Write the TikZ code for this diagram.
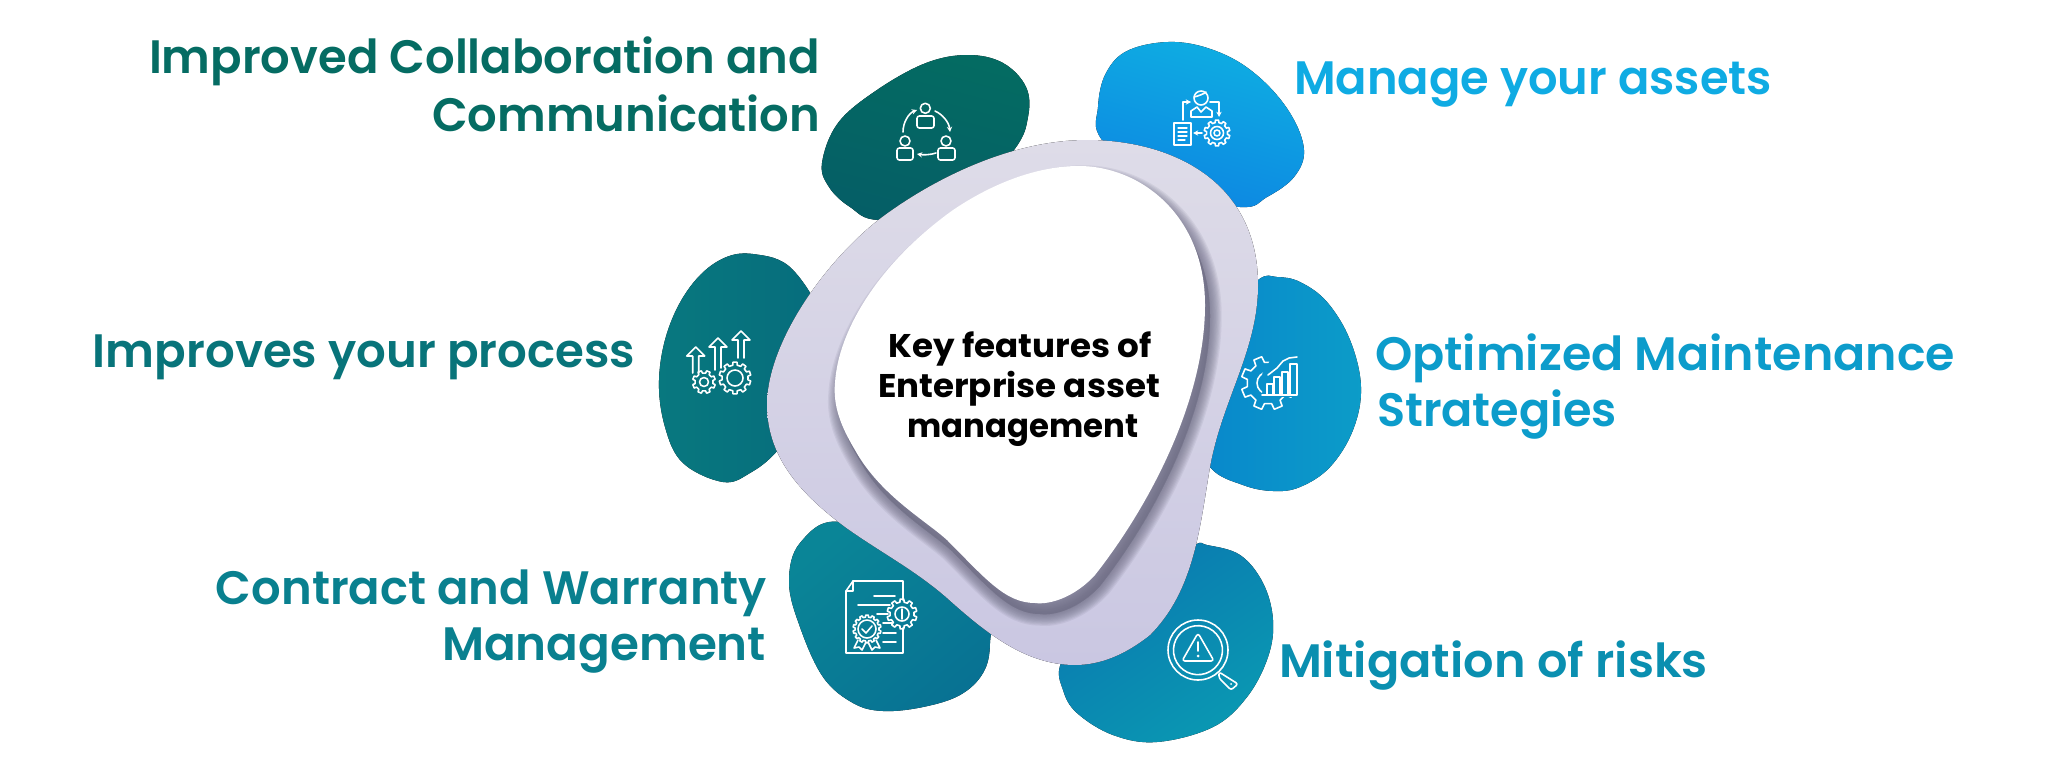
\documentclass[tikz,border=0pt]{standalone}
\usepackage{graphicx}
\usepackage{fontspec}
\setmainfont{Poppins}[UprightFont=* SemiBold,BoldFont=* Bold]
\usetikzlibrary{arrows.meta}
\definecolor{tgreen}{HTML}{056C63}
\definecolor{tblue}{HTML}{0FABE3}
\definecolor{tteal}{HTML}{08747A}
\definecolor{topt}{HTML}{0C9CCB}
\definecolor{tcontract}{HTML}{09808F}
\definecolor{tmit}{HTML}{0A8FB0}
\definecolor{shadowcol}{HTML}{6E6D84}
\definecolor{pgA}{HTML}{046B62}\definecolor{pgB}{HTML}{055E66}
\definecolor{pbA}{HTML}{0EAEE2}\definecolor{pbB}{HTML}{0D85E2}
\definecolor{poA}{HTML}{0886CC}\definecolor{poB}{HTML}{0C9CC8}
\definecolor{piA}{HTML}{08787F}\definecolor{piB}{HTML}{066C7C}
\definecolor{pcA}{HTML}{0A8597}\definecolor{pcB}{HTML}{087293}
\definecolor{pmA}{HTML}{0A78B0}\definecolor{pmB}{HTML}{0A98B2}
\definecolor{ringA}{HTML}{DEDCE8}\definecolor{ringB}{HTML}{CAC7E2}
\tikzset{
  lab/.style={anchor=base,inner sep=0pt,font=\fontsize{40}{40}\selectfont},
  ctr/.style={anchor=base,inner sep=0pt,text=black,font=\fontsize{28}{28}\selectfont\bfseries},
  iconline/.style={draw=white,line width=1.35pt,line cap=round,line join=round},
  arr/.style={iconline,-{Stealth[length=4.5pt,width=4.5pt]}}
}
\newcommand\fitw[2]{\resizebox{\dimexpr 0.03cm*#1\relax}{\height}{#2}}
\newcommand\ringpath{(1087,140) .. controls (1170,140) and (1258,180) .. (1258,285) .. controls (1258,350) and (1222,400) .. (1210,467) .. controls (1200,525) and (1195,590) .. (1150,635) .. controls (1125,655) and (1100,665) .. (1075,665) .. controls (1025,665) and (985,632) .. (947,598) .. controls (915,570) and (880,552) .. (845,527) .. controls (805,497) and (767,460) .. (767,405) .. controls (767,340) and (830,255) .. (885,215) .. controls (940,175) and (1015,140) .. (1087,140) -- cycle}
\newcommand\whitepath{(1079,166) .. controls (1140,166) and (1205,215) .. (1205,305) .. controls (1205,400) and (1150,505) .. (1095,575) .. controls (1075,597) and (1050,605) .. (1035,603) .. controls (1005,603) and (985,578) .. (947,540) .. controls (925,520) and (880,495) .. (855,450) .. controls (840,425) and (833,405) .. (835,383) .. controls (838,330) and (880,262) .. (953,210) .. controls (990,185) and (1035,166) .. (1079,166) -- cycle}
% gear outline centred at (#1,#2), outer radius #3, root radius #4, #5 teeth
\newcommand\gearicon[5]{%
  \pgfmathsetmacro\gstep{360/#5}%
  \begin{scope}[shift={(#1,#2)}]
    \draw[iconline] (0:#4) \foreach \gi in {1,...,#5}{
      -- ({(\gi-1)*\gstep+0.22*\gstep}:#4)
      -- ({(\gi-1)*\gstep+0.30*\gstep}:#3)
      -- ({(\gi-1)*\gstep+0.70*\gstep}:#3)
      -- ({(\gi-1)*\gstep+0.78*\gstep}:#4)
    } -- cycle;
  \end{scope}}
% outlined up arrow: x, tip y, left bottom y, right bottom y
\newcommand\uparrowicon[4]{%
  \draw[iconline] (#1-3,#3) -- (#1-3,#2+9) -- (#1-9,#2+9) -- (#1,#2) -- (#1+9,#2+9) -- (#1+3,#2+9) -- (#1+3,#4);}
\begin{document}
\begin{tikzpicture}[x=0.03cm,y=-0.03cm]
\useasboundingbox (0,0) rectangle (2048,777);
\fill[white] (0,0) rectangle (2048,777);

% petals
\fill[top color=pgA,bottom color=pgB,shading angle=-15] plot[smooth cycle,tension=.62] coordinates{(822,163)(838,123)(877,90)(926,63)(968,55)(1003,63)(1026,87)(1028,117)(1014,150)(960,210)(880,220)(850,207)(829,187)};
\fill[top color=pbA,bottom color=pbB,shading angle=-15] plot[smooth cycle,tension=.62] coordinates{(1098,107)(1106,73)(1129,50)(1175,42)(1221,53)(1259,77)(1290,113)(1304,150)(1294,177)(1267,197)(1240,207)(1160,190)(1102,140)};
\fill[left color=poA,right color=poB] plot[smooth cycle,tension=.62] coordinates{(1258,280)(1277,277)(1300,282)(1327,302)(1350,340)(1361,387)(1353,430)(1330,467)(1300,487)(1273,491)(1243,485)(1210,467)(1190,420)(1220,320)};
\fill[left color=piA,right color=piB] plot[smooth cycle,tension=.62] coordinates{(793,270)(753,254)(720,260)(690,287)(668,330)(659,380)(665,427)(683,463)(723,482)(750,473)(778,450)(815,400)(825,330)};
\fill[top color=pcA,bottom color=pcB,shading angle=40] plot[smooth cycle,tension=.62] coordinates{(840,522)(800,543)(789,582)(800,627)(823,677)(853,703)(883,711)(923,707)(960,695)(983,673)(990,643)(985,600)(920,560)};
\fill[top color=pmA,bottom color=pmB,shading angle=35] plot[smooth cycle,tension=.62] coordinates{(1195,545)(1207,545)(1240,555)(1263,583)(1273,620)(1268,657)(1247,697)(1213,727)(1157,742)(1113,735)(1077,713)(1063,690)(1061,663)(1090,620)(1160,570)};

% ring, shadow and centre
\fill[top color=ringA,bottom color=ringB] \ringpath;
\begin{scope}
  \clip \ringpath;
  \begin{scope}[shift={(5,11)}]
    \foreach \w in {20,18,16,14,12,10,8,6,4,2}{
      \fill[shadowcol,draw=shadowcol,opacity=.11,line width=\w pt] \whitepath;
    }
  \end{scope}
\end{scope}
\fill[white] \whitepath;

% labels
\node[lab,text=tgreen] (collab1) at (484.5,73) {\fitw{671}{Improved Collaboration and}};
\node[lab,text=tgreen] (collab2) at (626,131) {\fitw{388}{Communication}};
\node[lab,text=tblue] (manage) at (1533,94) {\fitw{478}{Manage your assets}};
\node[lab,text=tteal] (process) at (364,367) {\fitw{542}{Improves your process}};
\node[lab,text=topt] (optim1) at (1665,370) {\fitw{580}{Optimized Maintenance}};
\node[lab,text=topt] (optim2) at (1497,426) {\fitw{240}{Strategies}};
\node[lab,text=tcontract] (contract1) at (491.5,604) {\fitw{551}{Contract and Warranty}};
\node[lab,text=tcontract] (contract2) at (604,660) {\fitw{324}{Management}};
\node[lab,text=tmit] (mitig) at (1493.5,677) {\fitw{429}{Mitigation of risks}};
\node[ctr] (key1) at (1020,357) {\fitw{263}{Key features of}};
\node[ctr] (key2) at (1019,397) {\fitw{282}{Enterprise asset}};
\node[ctr] (key3) at (1023,437) {\fitw{231}{management}};

% icon: collaboration
\draw[iconline] (925.3,108.3) circle[radius=5];
\draw[iconline,rounded corners=2pt] (917,116) rectangle (934,128);
\draw[iconline] (905,141) circle[radius=5];
\draw[iconline,rounded corners=2pt] (897,148) rectangle (913,160);
\draw[iconline] (946,141) circle[radius=5];
\draw[iconline,rounded corners=2pt] (938,148) rectangle (955,160);
\draw[arr] (903,132) .. controls (903,122) and (909,113) .. (917,110);
\draw[arr] (935,111) .. controls (942,114) and (949,122) .. (950,132);
\draw[arr] (936,153) .. controls (930,155) and (923,155) .. (917,154);

% icon: manage
\draw[iconline] (1201,98) circle[radius=7];
\draw[iconline] (1194,97) .. controls (1198,96) and (1204,94) .. (1206,92);
\draw[iconline] (1191,117) -- (1191,111) -- (1197,107) -- (1201,112) -- (1206,107) -- (1212,111) -- (1212,117) -- cycle;
\draw[arr] (1183,120) -- (1183,102) -- (1191,102);
\draw[arr] (1210,102) -- (1219,102) -- (1219,117);
\draw[iconline] (1174,123) rectangle (1191,145);
\foreach \ly/\la/\lb in {128/1178/1187,132/1178/1187,136/1178/1187,140/1178/1185}{\draw[iconline,line width=1.1pt] (\la,\ly) -- (\lb,\ly);}
\draw[arr] (1202,133) -- (1193,133);
\gearicon{1217}{133}{13}{10.5}{10}
\draw[iconline] (1217,133) circle[radius=6.5];
\draw[iconline] (1217,133) circle[radius=3];

% icon: process
\uparrowicon{695.7}{347}{373}{373}
\uparrowicon{718}{338}{370}{368}
\uparrowicon{741}{331}{358}{358}
\gearicon{704}{382}{11.5}{9}{8}
\draw[iconline] (704,382) circle[radius=4.5];
\gearicon{735}{378}{16}{13}{10}
\draw[iconline] (735,378) circle[radius=8];

% icon: optimised maintenance
\begin{scope}
  \clip (1235,350) -- (1276,350) -- (1262,374) -- (1262,397) -- (1300,397) -- (1300,425) -- (1235,425) -- cycle;
  \gearicon{1268}{383}{27}{21}{8}
  \draw[iconline] (1268,383) circle[radius=11];
\end{scope}
\draw[iconline] (1267,395) -- (1267,384) -- (1273,384) -- (1273,395);
\draw[iconline] (1274,395) -- (1274,377) -- (1280,377) -- (1280,395);
\draw[iconline] (1282,395) -- (1282,372) -- (1288,372) -- (1288,395);
\draw[iconline] (1290,395) -- (1290,364) -- (1297,364) -- (1297,395) -- (1262,395);
\draw[iconline] (1268,375) -- (1277,368) -- (1283,361) -- (1289,358) -- (1297,357);

% icon: contract
\draw[iconline] (903,600) -- (903,581) -- (853,581) -- (846,591) -- (846,653) -- (903,653) -- (903,628);
\draw[iconline] (846,591) -- (853,591) -- (853,581);
\foreach \ly/\la/\lb in {596/874/895,605/858/890,614/877/888,623/883/892,633/883/896,642/883/896}{\draw[iconline] (\la,\ly) -- (\lb,\ly);}
\gearicon{902}{614}{15}{12}{10}
\draw[iconline] (902,614) circle[radius=7];
\draw[iconline] (902,609) -- (902,619);
\gearicon{867}{629}{14}{12}{14}
\draw[iconline] (867,629) circle[radius=9];
\draw[iconline] (862,629) -- (866,633) -- (872,626);
\draw[iconline] (858,640) -- (854,648) -- (859,647) -- (862,650) -- (866,642);
\draw[iconline] (876,640) -- (880,648) -- (875,647) -- (872,650) -- (868,642);

% icon: risks
\draw[iconline] (1198,650) circle[radius=30];
\draw[iconline] (1190,627) arc[start angle=-109,end angle=249,radius=24.5];
\draw[iconline,rounded corners=2.5pt] (1198,633) -- (1214,661) -- (1182,661) -- cycle;
\draw[iconline] (1198,642) -- (1198,651);
\fill[white] (1198,656) circle[radius=1.5];
\draw[iconline,rounded corners=2pt] (1219,672) -- (1238,684) -- (1231,690) -- (1219,678) -- cycle;
\fill[white] (1231,684) circle[radius=1];
\end{tikzpicture}
\end{document}
